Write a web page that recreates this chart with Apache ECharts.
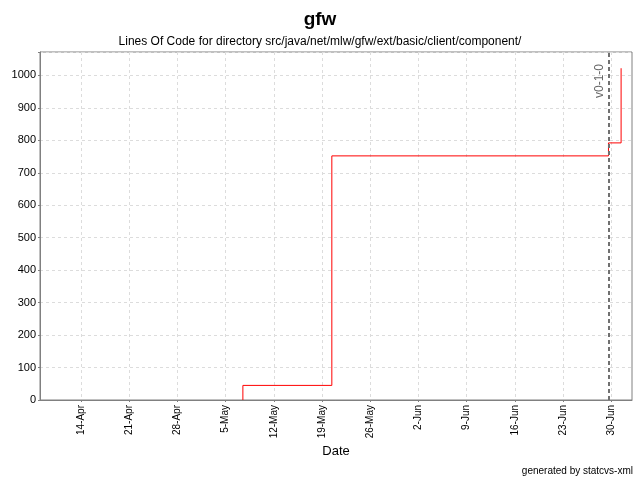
<!DOCTYPE html>
<html><head><meta charset="utf-8">
<script src="https://cdn.jsdelivr.net/npm/echarts@6/dist/echarts.min.js"></script>
<style>html,body{margin:0;padding:0;background:#fff}#c{width:640px;height:480px}</style>
</head><body><div id="c"></div>
<script>
const chartTitle = 'gfw';
const chartSubtitle = 'Lines Of Code for directory src/java/net/mlw/gfw/ext/basic/client/component/';
const footerText = 'generated by statcvs-xml';
const xAxisName = 'Date';
const stepDates = ['2003-05-07T12:00', '2003-05-07T12:00', '2003-05-20T10:00', '2003-06-29T14:00', '2003-07-01T10:00'];
const locValues = [0, 45, 752, 792, 1022];
const versionNames = ['v0-1-0'];
const versionDates = ['2003-06-29T14:00'];
const tickDates = ['2003-04-14', '2003-04-21', '2003-04-28', '2003-05-05', '2003-05-12', '2003-05-19',
                   '2003-05-26', '2003-06-02', '2003-06-09', '2003-06-16', '2003-06-23', '2003-06-30'];
const axisStart = '2003-04-08T01:00';
const axisEnd = '2003-07-03T00:00';
const yMax = 1072;
const monthNames = ['Jan','Feb','Mar','Apr','May','Jun','Jul','Aug','Sep','Oct','Nov','Dec'];

const DAY = 86400000;
const baseMs = Date.parse(tickDates[0] + 'T00:00Z');
const toDay = s => (Date.parse((s.length === 10 ? s + 'T00:00' : s) + 'Z') - baseMs) / DAY;
const FONT = '"Liberation Sans", Arial, sans-serif';
const tickValues = tickDates.map(toDay);

const chart = echarts.init(document.getElementById('c'), null, {renderer: 'canvas'});
chart.setOption({
  animation: false,
  backgroundColor: '#fff',
  textStyle: {fontFamily: FONT},
  title: [
    {text: chartTitle, left: 'center', top: 10, padding: 0, textStyle: {fontFamily: FONT, fontSize: 19, fontWeight: 'bold', color: '#000'}},
    {text: chartSubtitle, left: 'center', top: 36, padding: 0, textStyle: {fontFamily: FONT, fontSize: 12, fontWeight: 'normal', color: '#000'}},
    {text: footerText, right: 7, bottom: 4, padding: 0, textStyle: {fontFamily: FONT, fontSize: 10, fontWeight: 'normal', color: '#000'}}
  ],
  grid: {left: 40, right: 8, top: 52, bottom: 80, show: true, borderColor: '#808080', borderWidth: 1, backgroundColor: '#fff'},
  xAxis: {
    type: 'value',
    min: toDay(axisStart), max: toDay(axisEnd),
    name: xAxisName, nameLocation: 'middle', nameGap: 45, nameMoveOverlap: false,
    nameTextStyle: {fontFamily: FONT, fontSize: 13, color: '#000'},
    axisLine: {show: true, onZero: false, lineStyle: {color: '#808080'}},
    axisTick: {show: true, length: 2, customValues: tickValues, lineStyle: {color: '#808080'}},
    splitLine: {show: true, lineStyle: {color: '#dcdcdc', type: [3, 3]}},
    axisLabel: {
      rotate: 90, fontSize: 10, color: '#000', margin: 5, fontFamily: FONT,
      customValues: tickValues,
      formatter: v => {
        const d = new Date(baseMs + Math.round(v) * DAY);
        return d.getUTCDate() + '-' + monthNames[d.getUTCMonth()];
      }
    }
  },
  yAxis: {
    type: 'value', min: 0, max: yMax, interval: 100,
    axisLine: {show: true, onZero: false, lineStyle: {color: '#808080'}},
    axisTick: {show: true, length: 2, lineStyle: {color: '#808080'}},
    splitLine: {show: true, lineStyle: {color: '#dcdcdc', type: [3, 3]}},
    axisLabel: {
      fontSize: 11, color: '#000', margin: 4, fontFamily: FONT,
      formatter: v => (v % 100 === 0 ? String(v) : '')
    }
  },
  series: [{
    type: 'line',
    step: 'end',
    showSymbol: false,
    symbol: 'none',
    lineStyle: {color: '#ff0000', width: 1},
    itemStyle: {color: '#ff0000'},
    data: stepDates.map((d, i) => [toDay(d), locValues[i]]),
    markLine: {
      silent: true,
      symbol: ['none', 'none'],
      lineStyle: {color: '#707070', type: [4, 3], width: 2},
      label: {
        show: true, position: 'insideEndTop', formatter: p => p.name,
        fontFamily: FONT, fontSize: 12, color: '#666', distance: [12, 3]
      },
      data: versionDates.map((d, i) => ({name: versionNames[i], xAxis: toDay(d)}))
    }
  }]
});
</script>
</body></html>
